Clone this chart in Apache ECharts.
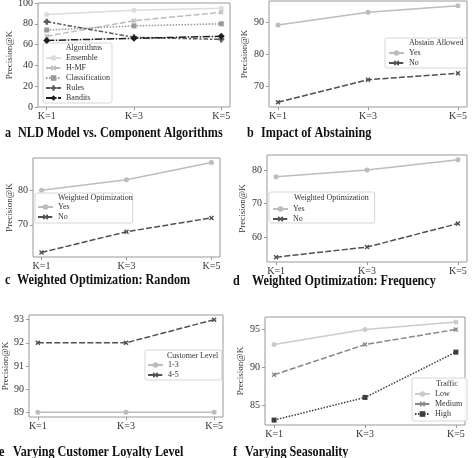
<!DOCTYPE html>
<html>
<head>
<meta charset="utf-8">
<script src="https://cdn.jsdelivr.net/npm/echarts@6.0.0/dist/echarts.min.js"></script>
<style>
  html, body { margin: 0; padding: 0; background: #fff; }
  #chart { width: 474px; height: 458px; }
</style>
</head>
<body>
<div id="chart"></div>
<script>
  // categories
  const kLabels = ['K=1', 'K=3', 'K=5'];

  // a: NLD model vs component algorithms
  const ensemble = [89, 93, 95];
  const hmf = [68, 83, 91];
  const classification = [74, 78, 80];
  const rules = [82, 67, 65];
  const bandits = [64, 66, 68];
  // b: abstaining
  const abstainYes = [89, 93, 95];
  const abstainNo = [65, 72, 74];
  // c: weighted optimization, random
  const randomYes = [80, 83, 88];
  const randomNo = [62, 68, 72];
  // d: weighted optimization, frequency
  const freqYes = [78, 80, 83];
  const freqNo = [54, 57, 64];
  // e: customer loyalty
  const level13 = [89, 89, 89];
  const level45 = [92, 92, 93];
  // f: seasonality
  const trafficLow = [93, 95, 96];
  const trafficMedium = [89, 93, 95];
  const trafficHigh = [83, 86, 92];

  // y tick labels
  const ticksA = [0, 20, 40, 60, 80, 100];
  const ticksB = [70, 80, 90];
  const ticksC = [70, 80];
  const ticksD = [60, 70, 80];
  const ticksE = [89, 90, 91, 92, 93];
  const ticksF = [85, 90, 95];

  const SERIF = '"Liberation Serif", "Times New Roman", serif';
  const X_PATH = 'path://M0,2 L2,0 L5,3 L8,0 L10,2 L7,5 L10,8 L8,10 L5,7 L2,10 L0,8 L3,5 Z';
  const PLUS_PATH = 'path://M3,0 H7 V3 H10 V7 H7 V10 H3 V7 H0 V3 H3 Z';

  // line styles (seaborn-like dashes, scaled by line width)
  const styles = {
    ensemble: {color: '#dcdcdc', symbol: 'circle', size: 5, dash: 'solid'},
    hmf: {color: '#bdbdbd', symbol: X_PATH, size: 5, dash: [6, 2.25]},
    classification: {color: '#999999', symbol: 'rect', size: 5, dash: [1.5, 1.5]},
    rules: {color: '#5a5a5a', symbol: PLUS_PATH, size: 6, dash: [4.5, 1.9, 2.25, 1.9]},
    bandits: {color: '#1e1e1e', symbol: 'diamond', size: 7, dash: [7.5, 1.5, 1.5, 1.5]},
    yes: {color: '#bdbdbd', symbol: 'circle', size: 5, dash: 'solid'},
    no: {color: '#505050', symbol: X_PATH, size: 5, dash: [6, 2.25]},
    low: {color: '#cccccc', symbol: 'circle', size: 5, dash: 'solid'},
    medium: {color: '#888888', symbol: X_PATH, size: 5, dash: [6, 2.25]},
    high: {color: '#3c3c3c', symbol: 'rect', size: 5, dash: [1.5, 1.5]}
  };

  function padRange(arrays) {
    const all = [].concat(...arrays);
    const lo = Math.min(...all), hi = Math.max(...all);
    const m = (hi - lo) * 0.05;
    return [lo - m, hi + m];
  }

  const panels = [
    {grid: [38, 3, 192, 104], range: [0, 100], ticks: ticksA, nameGap: 21,
      lines: [['Ensemble', ensemble, styles.ensemble], ['H-MF', hmf, styles.hmf],
        ['Classification', classification, styles.classification], ['Rules', rules, styles.rules],
        ['Bandits', bandits, styles.bandits]],
      legend: {left: 43, top: 43, padding: [11, 2, 1, 2]},
      legendTitle: {text: 'Algorithms', x: 84, y: 48, align: 'center'},
      letter: 'a', caption: 'NLD Model vs. Component Algorithms', cap: [5, 18, 133]},
    {grid: [269, 1, 198, 106], ticks: ticksB, nameGap: 20,
      lines: [['Yes', abstainYes, styles.yes], ['No', abstainNo, styles.no]],
      legend: {left: 385, top: 38, padding: [11, 46, 1, 3]},
      legendTitle: {text: 'Abstain Allowed', x: 409, y: 43, align: 'left'},
      letter: 'b', caption: 'Impact of Abstaining', cap: [247, 261, 133]},
    {grid: [33, 158, 187, 99], ticks: ticksC, nameGap: 17,
      lines: [['Yes', randomYes, styles.yes], ['No', randomNo, styles.no]],
      legend: {left: 35, top: 193, padding: [10, 63, 2, 2]},
      legendTitle: {text: 'Weighted Optimization', x: 58, y: 198, align: 'left'},
      letter: 'c', caption: 'Weighted Optimization: Random', cap: [5, 17, 280]},
    {grid: [267, 155, 200, 107], ticks: ticksD, nameGap: 20,
      lines: [['Yes', freqYes, styles.yes], ['No', freqNo, styles.no]],
      legend: {left: 269, top: 192, padding: [13, 70, 0, 3]},
      legendTitle: {text: 'Weighted Optimization', x: 294, y: 198, align: 'left'},
      letter: 'd', caption: 'Weighted Optimization: Frequency', cap: [233, 252, 281]},
    {grid: [29, 315, 194, 102], ticks: ticksE, nameGap: 19,
      lines: [['1-3', level13, styles.yes], ['4-5', level45, styles.no]],
      legend: {left: 145, top: 350, padding: [11, 43, 1, 2]},
      legendTitle: {text: 'Customer Level', x: 167, y: 356, align: 'left'},
      letter: 'e', caption: 'Varying Customer Loyalty Level', cap: [-1, 13, 452]},
    {grid: [265, 317, 200, 108], ticks: ticksF, nameGap: 20,
      lines: [['Low', trafficLow, styles.low], ['Medium', trafficMedium, styles.medium],
        ['High', trafficHigh, styles.high]],
      legend: {left: 412, top: 378, padding: [12, 5, 3, 2]},
      legendTitle: {text: 'Traffic', x: 436, y: 384, align: 'left'},
      letter: 'f', caption: 'Varying Seasonality', cap: [233, 245, 452]}
  ];

  const grid = [], xAxis = [], yAxis = [], series = [], legend = [], graphic = [];

  panels.forEach(function (p, i) {
    grid.push({
      left: p.grid[0], top: p.grid[1], width: p.grid[2], height: p.grid[3],
      show: true, borderColor: '#999', borderWidth: 1, backgroundColor: 'transparent',
      outerBoundsMode: 'none'
    });
    xAxis.push({
      gridIndex: i, type: 'value', min: -0.1, max: 2.1, position: 'bottom',
      axisLine: {show: false, onZero: false}, splitLine: {show: false},
      axisTick: {show: true, length: 3, lineStyle: {color: '#999'}, customValues: [0, 1, 2]},
      axisLabel: {
        customValues: [0, 1, 2], margin: 4, color: '#333', fontFamily: SERIF, fontSize: 10,
        formatter: function (v) { return kLabels[Math.round(v)]; }
      }
    });
    const range = p.range || padRange(p.lines.map(function (l) { return l[1]; }));
    yAxis.push({
      gridIndex: i, type: 'value', min: range[0], max: range[1], position: 'left',
      axisLine: {show: false, onZero: false}, splitLine: {show: false},
      axisTick: {show: true, length: 3, lineStyle: {color: '#999'}, customValues: p.ticks},
      axisLabel: {customValues: p.ticks, margin: 5, color: '#333', fontFamily: SERIF, fontSize: 10},
      name: 'Precision@K', nameLocation: 'middle', nameGap: p.nameGap,
      nameTextStyle: {color: '#333', fontFamily: SERIF, fontSize: 9}
    });
    p.lines.forEach(function (l, j) {
      const st = l[2];
      series.push({
        name: l[0], type: 'line', xAxisIndex: i, yAxisIndex: i,
        data: l[1].map(function (v, k) { return [k, v]; }),
        symbol: st.symbol, symbolSize: st.size, showSymbol: true,
        lineStyle: {color: st.color, width: 1.5, type: st.dash},
        itemStyle: {color: st.color},
        z: 2 + j, animation: false
      });
    });
    legend.push({
      orient: 'vertical', left: p.legend.left, top: p.legend.top, padding: p.legend.padding,
      itemWidth: 15, itemHeight: 7, itemGap: 2, selectedMode: false,
      backgroundColor: 'rgba(255,255,255,0.85)', borderColor: '#d6d6d6', borderWidth: 1, borderRadius: 2,
      textStyle: {fontFamily: SERIF, fontSize: 8, color: '#333', lineHeight: 8},
      data: p.lines.map(function (l) { return l[0]; })
    });
    graphic.push({
      type: 'text', x: p.legendTitle.x, y: p.legendTitle.y, z: 100,
      style: {text: p.legendTitle.text, fill: '#333', font: '8px ' + SERIF,
        textAlign: p.legendTitle.align, textVerticalAlign: 'middle'}
    });
    graphic.push({
      type: 'text', x: p.cap[0], y: p.cap[2], scaleX: 0.87,
      style: {text: p.letter, fill: '#111', font: 'bold 14px ' + SERIF, textVerticalAlign: 'middle'}
    });
    graphic.push({
      type: 'text', x: p.cap[1], y: p.cap[2], scaleX: 0.87,
      style: {text: p.caption, fill: '#111', font: 'bold 14px ' + SERIF, textVerticalAlign: 'middle'}
    });
  });

  const myChart = echarts.init(document.getElementById('chart'));
  myChart.setOption({
    animation: false,
    backgroundColor: '#fff',
    grid: grid,
    xAxis: xAxis,
    yAxis: yAxis,
    legend: legend,
    series: series,
    graphic: graphic
  });
</script>
</body>
</html>
